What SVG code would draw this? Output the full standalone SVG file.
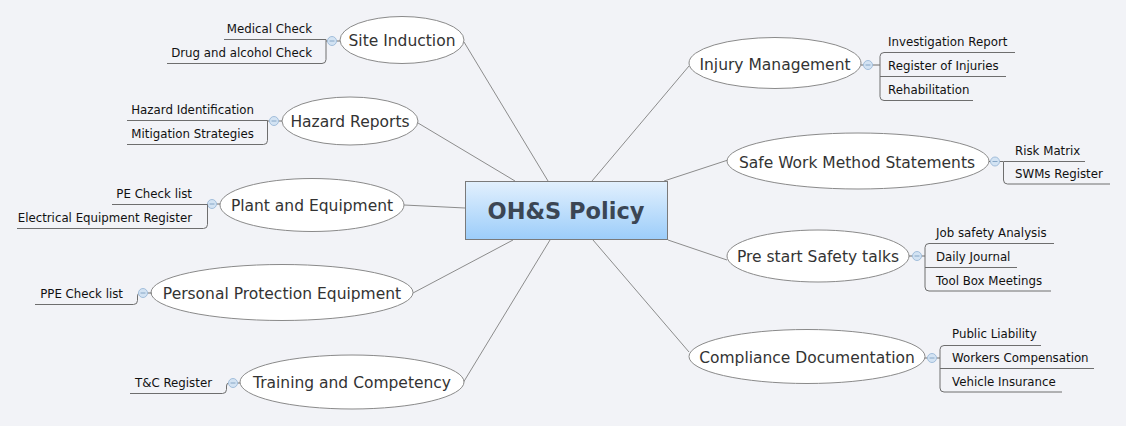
<svg xmlns="http://www.w3.org/2000/svg" width="1126" height="426" viewBox="0 0 1126 426">
<defs>
<linearGradient id="cg" x1="0" y1="0" x2="0" y2="1">
<stop offset="0" stop-color="#e2f0fd"/>
<stop offset="1" stop-color="#9ccdfa"/>
</linearGradient>
<style>
.conn{stroke:#8c8c8c;stroke-width:1;fill:none}
.topic{fill:#ffffff;stroke:#8a8a8a;stroke-width:1}
.tt{font-family:"DejaVu Sans",Verdana,sans-serif;font-size:15.5px;fill:#333333;text-anchor:middle}
.st{font-family:"DejaVu Sans",Verdana,sans-serif;font-size:11.8px;fill:#111111}
.stl{text-anchor:end}
.ul{stroke:#6e6e6e;stroke-width:1;fill:none}
.col{fill:#d3e3f3;stroke:#a2bedb;stroke-width:1}
.minus{stroke:#86a6c6;stroke-width:1}
</style>
</defs>
<rect x="0" y="0" width="1126" height="426" fill="#f2f3f7"/>

<g id="connectors">
<line class="conn" x1="464" y1="42" x2="548" y2="181"/>
<line class="conn" x1="418" y1="123" x2="515" y2="181"/>
<line class="conn" x1="404" y1="205" x2="465" y2="208"/>
<line class="conn" x1="413" y1="293" x2="513" y2="240"/>
<line class="conn" x1="463" y1="383" x2="550" y2="240"/>
<line class="conn" x1="689" y1="66" x2="592" y2="181"/>
<line class="conn" x1="728" y1="160" x2="664" y2="181"/>
<line class="conn" x1="727" y1="260" x2="668" y2="240"/>
<line class="conn" x1="689" y1="352" x2="593" y2="240"/>
</g>

<g id="center">
<rect x="465.5" y="181.5" width="202" height="58" fill="url(#cg)" stroke="#7a7a7a" stroke-width="1"/>
<text x="566" y="219" font-family="'DejaVu Sans',Verdana,sans-serif" font-size="22.5" font-weight="bold" fill="#3b4654" text-anchor="middle">OH&amp;S Policy</text>
</g>

<g id="site-induction">
<ellipse class="topic" cx="402" cy="40" rx="62" ry="23.5"/>
<text class="tt" x="402" y="46">Site Induction</text>
<line class="ul" x1="326" y1="41" x2="340" y2="41"/>
<circle class="col" cx="332" cy="41" r="4.5"/><line class="minus" x1="329.5" y1="41" x2="334.5" y2="41"/>
<path class="ul" d="M224 39.5 H326 V59.5 Q326 63.5 322 63.5 H167"/>
<text class="st stl" x="312" y="33">Medical Check</text>
<text class="st stl" x="312" y="57">Drug and alcohol Check</text>
</g>

<g id="hazard-reports">
<ellipse class="topic" cx="350" cy="121" rx="68" ry="24"/>
<text class="tt" x="350" y="127">Hazard Reports</text>
<line class="ul" x1="267" y1="121" x2="282" y2="121"/>
<circle class="col" cx="274" cy="121" r="4.5"/><line class="minus" x1="271.5" y1="121" x2="276.5" y2="121"/>
<path class="ul" d="M127 120.5 H267.5 V140.5 Q267.5 144.5 263.5 144.5 H127"/>
<text class="st stl" x="254" y="114">Hazard Identification</text>
<text class="st stl" x="254" y="138">Mitigation Strategies</text>
</g>

<g id="plant-equipment">
<ellipse class="topic" cx="312" cy="205" rx="92" ry="26.5"/>
<text class="tt" x="312" y="211">Plant and Equipment</text>
<line class="ul" x1="207" y1="204" x2="220" y2="204"/>
<circle class="col" cx="212" cy="204" r="4.5"/><line class="minus" x1="209.5" y1="204" x2="214.5" y2="204"/>
<path class="ul" d="M112 204.5 H207.5 V224.5 Q207.5 228.5 203.5 228.5 H17"/>
<text class="st stl" x="192" y="198">PE Check list</text>
<text class="st stl" x="192" y="222">Electrical Equipment Register</text>
</g>

<g id="personal-protection">
<ellipse class="topic" cx="282" cy="292.5" rx="131" ry="28"/>
<text class="tt" x="282" y="299">Personal Protection Equipment</text>
<line class="ul" x1="143" y1="293" x2="152" y2="293"/>
<path class="ul" d="M35 304.5 H133.5 Q137.5 304.5 137.5 300.5 V296 Q137.5 293 140 293"/>
<circle class="col" cx="143" cy="293" r="4.5"/><line class="minus" x1="140.5" y1="293" x2="145.5" y2="293"/>
<text class="st stl" x="123" y="298">PPE Check list</text>
</g>

<g id="training-competency">
<ellipse class="topic" cx="352" cy="382" rx="112" ry="27"/>
<text class="tt" x="352" y="388">Training and Competency</text>
<line class="ul" x1="233" y1="383" x2="240" y2="383"/>
<path class="ul" d="M130 393.5 H222.5 Q226.5 393.5 226.5 389.5 V386 Q226.5 383 229 383"/>
<circle class="col" cx="233" cy="383" r="4.5"/><line class="minus" x1="230.5" y1="383" x2="235.5" y2="383"/>
<text class="st stl" x="212" y="387">T&amp;C Register</text>
</g>

<g id="injury-management">
<ellipse class="topic" cx="775" cy="63" rx="86" ry="25.5"/>
<text class="tt" x="775" y="69.5">Injury Management</text>
<line class="ul" x1="861" y1="65" x2="880" y2="65"/>
<circle class="col" cx="868" cy="65" r="4.5"/><line class="minus" x1="865.5" y1="65" x2="870.5" y2="65"/>
<path class="ul" d="M1015 52.5 H884 Q880 52.5 880 56.5 V96.5 Q880 100.5 884 100.5 H973"/>
<line class="ul" x1="880" y1="76.5" x2="1006" y2="76.5"/>
<text class="st" x="888" y="46">Investigation Report</text>
<text class="st" x="888" y="70">Register of Injuries</text>
<text class="st" x="888" y="94">Rehabilitation</text>
</g>

<g id="safe-work">
<ellipse class="topic" cx="858" cy="161" rx="131" ry="28"/>
<text class="tt" x="857" y="167.5">Safe Work Method Statements</text>
<line class="ul" x1="989" y1="161.5" x2="1003" y2="161.5"/>
<circle class="col" cx="995" cy="161.5" r="4.5"/><line class="minus" x1="992.5" y1="161.5" x2="997.5" y2="161.5"/>
<path class="ul" d="M1085 161.5 H1003.5 V180 Q1003.5 184 1007.5 184 H1110"/>
<text class="st" x="1015" y="155">Risk Matrix</text>
<text class="st" x="1015" y="178">SWMs Register</text>
</g>

<g id="pre-start">
<ellipse class="topic" cx="818" cy="256" rx="91" ry="26"/>
<text class="tt" x="818" y="262">Pre start Safety talks</text>
<line class="ul" x1="909" y1="256" x2="925" y2="256"/>
<circle class="col" cx="917" cy="256" r="4.5"/><line class="minus" x1="914.5" y1="256" x2="919.5" y2="256"/>
<path class="ul" d="M1054 243.5 H929 Q925 243.5 925 247.5 V287 Q925 291 929 291 H1051"/>
<line class="ul" x1="925" y1="267.5" x2="1017" y2="267.5"/>
<text class="st" x="936" y="237">Job safety Analysis</text>
<text class="st" x="936" y="261">Daily Journal</text>
<text class="st" x="936" y="285">Tool Box Meetings</text>
</g>

<g id="compliance">
<ellipse class="topic" cx="807" cy="356.5" rx="118" ry="27"/>
<text class="tt" x="807" y="363">Compliance Documentation</text>
<line class="ul" x1="925" y1="358" x2="940" y2="358"/>
<circle class="col" cx="932" cy="358" r="4.5"/><line class="minus" x1="929.5" y1="358" x2="934.5" y2="358"/>
<path class="ul" d="M1041 345.5 H944 Q940 345.5 940 349.5 V388 Q940 392 944 392 H1062"/>
<line class="ul" x1="940" y1="368.5" x2="1094" y2="368.5"/>
<text class="st" x="952" y="338">Public Liability</text>
<text class="st" x="952" y="362">Workers Compensation</text>
<text class="st" x="952" y="386">Vehicle Insurance</text>
</g>
</svg>
